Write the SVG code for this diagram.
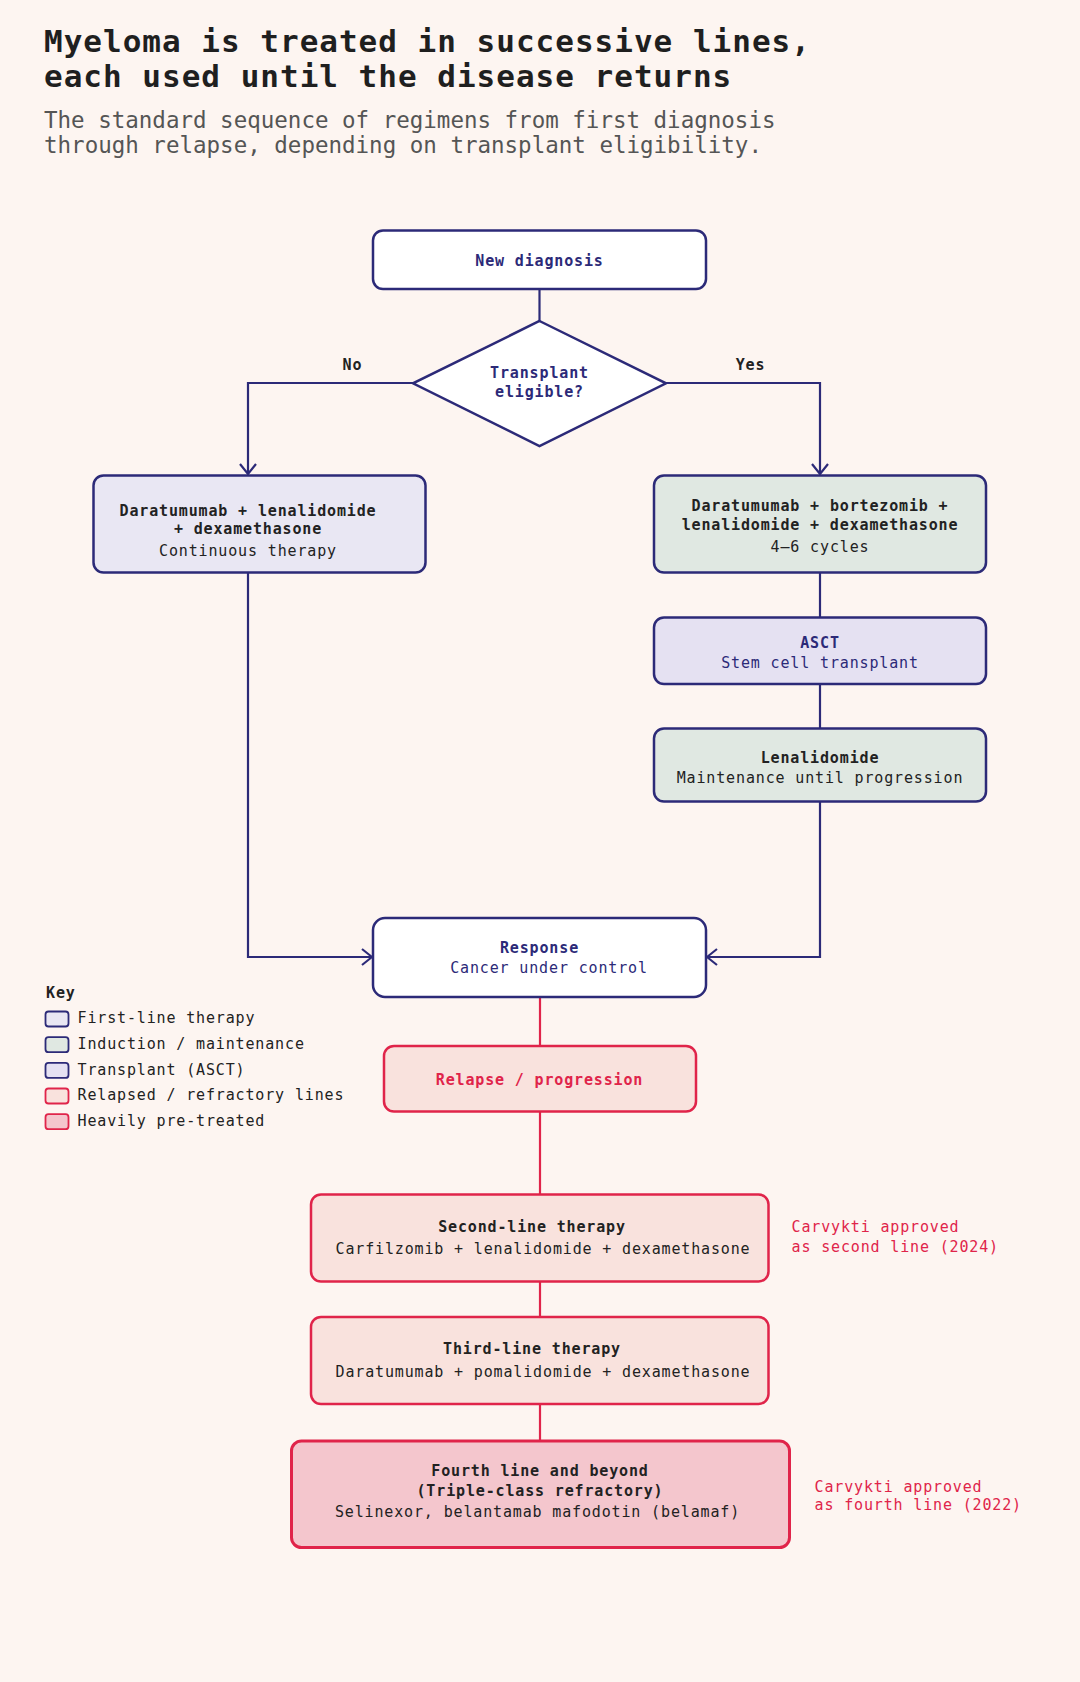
<svg xmlns="http://www.w3.org/2000/svg" width="1080" height="1682" viewBox="0 0 1080 1682">
<defs>
<style>
text{font-family:"DejaVu Sans Mono","Liberation Mono",monospace;}
.t{font-size:31px;font-weight:bold;fill:#1f1f1f;letter-spacing:1px;}
.s{font-size:22.5px;fill:#555;}
.n{font-size:15px;letter-spacing:0.85px;text-anchor:middle;}
.l{font-size:15px;letter-spacing:0.85px;}
.b{font-weight:bold;}
.dk{fill:#222;}
.nv{fill:#2c2a78;}
.rd{fill:#e0244a;}
.nav{stroke:#2c2a78;stroke-width:2.5;}
.red{stroke:#e0244a;stroke-width:2.5;}
.c{fill:none;stroke-width:2.2;}
</style>
<marker id="ah" markerUnits="userSpaceOnUse" markerWidth="12" markerHeight="18" viewBox="0 0 12 18" refX="11" refY="9" orient="auto">
<path d="M1,1 L11,9 L1,17" fill="none" stroke="#2c2a78" stroke-width="2.2"/>
</marker>
</defs>
<rect width="1080" height="1682" fill="#fdf5f1"/>
<g id="title">
<text class="t" x="44" y="52">Myeloma is treated in successive lines,</text>
<text class="t" x="44" y="87">each used until the disease returns</text>
<text class="s" x="44" y="127.5">The standard sequence of regimens from first diagnosis</text>
<text class="s" x="44" y="153">through relapse, depending on transplant eligibility.</text>
</g>
<g id="connectors">
<path class="c nav" d="M539.5,289 V321"/>
<path class="c nav" d="M413,383 H248 V474" marker-end="url(#ah)"/>
<path class="c nav" d="M666,383 H820 V474" marker-end="url(#ah)"/>
<path class="c nav" d="M820,573 V618"/>
<path class="c nav" d="M820,684 V728"/>
<path class="c nav" d="M820,802 V957 H707" marker-end="url(#ah)"/>
<path class="c nav" d="M248,573 V957 H372" marker-end="url(#ah)"/>
<path class="c red" d="M540,997 V1046"/>
<path class="c red" d="M540,1112 V1194"/>
<path class="c red" d="M540,1282 V1317"/>
<path class="c red" d="M540,1404 V1441"/>
<text class="l b dk" x="352.5" y="370" text-anchor="middle">No</text>
<text class="l b dk" x="750.5" y="370" text-anchor="middle">Yes</text>
</g>
<g id="new-diagnosis">
<rect x="373" y="230.5" width="333" height="58.5" rx="10" fill="#fff" class="nav"/>
<text class="n b nv" x="539.5" y="266">New diagnosis</text>
</g>
<g id="transplant-eligible">
<polygon points="539.5,321 666,383.3 539.5,446 413,383.3" fill="#fff" class="nav"/>
<text class="n b nv" x="539.5" y="378">Transplant</text>
<text class="n b nv" x="539.5" y="397">eligible?</text>
</g>
<g id="first-line-no">
<rect x="93.5" y="475.5" width="332" height="97" rx="10" fill="#e9e7f3" class="nav"/>
<text class="n b dk" x="248" y="515.5">Daratumumab + lenalidomide</text>
<text class="n b dk" x="248" y="534">+ dexamethasone</text>
<text class="n dk" x="248" y="555.5">Continuous therapy</text>
</g>
<g id="induction">
<rect x="654" y="475.5" width="332" height="97" rx="10" fill="#e0e8e2" class="nav"/>
<text class="n b dk" x="820" y="511">Daratumumab + bortezomib +</text>
<text class="n b dk" x="820" y="529.5">lenalidomide + dexamethasone</text>
<text class="n dk" x="820" y="551.5">4–6 cycles</text>
</g>
<g id="asct">
<rect x="654" y="617.5" width="332" height="66.5" rx="10" fill="#e5e1f2" class="nav"/>
<text class="n b nv" x="820" y="647.5">ASCT</text>
<text class="n nv" x="820" y="667.5">Stem cell transplant</text>
</g>
<g id="maintenance">
<rect x="654" y="728.5" width="332" height="73" rx="10" fill="#e0e8e2" class="nav"/>
<text class="n b dk" x="820" y="762.5">Lenalidomide</text>
<text class="n dk" x="820" y="783">Maintenance until progression</text>
</g>
<g id="response">
<rect x="373" y="918" width="333" height="79" rx="12" fill="#fff" class="nav"/>
<text class="n b nv" x="539.5" y="953">Response</text>
<text class="n nv" x="549" y="973">Cancer under control</text>
</g>
<g id="relapse">
<rect x="384" y="1046" width="312" height="65.5" rx="10" fill="#f9e2dd" class="red"/>
<text class="n b rd" x="539.5" y="1085">Relapse / progression</text>
</g>
<g id="second-line">
<rect x="311" y="1194.5" width="457.5" height="87" rx="10" fill="#f9e2dd" class="red"/>
<text class="n b dk" x="532" y="1231.5">Second-line therapy</text>
<text class="n dk" x="543" y="1254">Carfilzomib + lenalidomide + dexamethasone</text>
</g>
<g id="third-line">
<rect x="311" y="1317" width="457.5" height="87" rx="10" fill="#f9e2dd" class="red"/>
<text class="n b dk" x="532" y="1354">Third-line therapy</text>
<text class="n dk" x="543" y="1376.5">Daratumumab + pomalidomide + dexamethasone</text>
</g>
<g id="fourth-line">
<rect x="291.5" y="1441" width="498" height="106.5" rx="10" fill="#f4c6cd" stroke="#e0244a" stroke-width="3"/>
<text class="n b dk" x="540" y="1476">Fourth line and beyond</text>
<text class="n b dk" x="540" y="1495.5">(Triple-class refractory)</text>
<text class="n dk" x="537.5" y="1516.5">Selinexor, belantamab mafodotin (belamaf)</text>
</g>
<g id="note-second">
<text class="l rd" x="791.5" y="1231.5">Carvykti approved</text>
<text class="l rd" x="791.5" y="1251.5">as second line (2024)</text>
</g>
<g id="note-fourth">
<text class="l rd" x="814.5" y="1491.5">Carvykti approved</text>
<text class="l rd" x="814.5" y="1510">as fourth line (2022)</text>
</g>
<g id="key">
<text class="l b dk" x="46" y="998">Key</text>
<rect x="45.5" y="1011.5" width="23" height="15" rx="3" fill="#e9e7f3" stroke="#2c2a78" stroke-width="1.8"/>
<text class="l dk" x="77.5" y="1023.3">First-line therapy</text>
<rect x="45.5" y="1037.2" width="23" height="15" rx="3" fill="#e0e8e2" stroke="#2c2a78" stroke-width="1.8"/>
<text class="l dk" x="77.5" y="1049">Induction / maintenance</text>
<rect x="45.5" y="1062.9" width="23" height="15" rx="3" fill="#e5e1f2" stroke="#2c2a78" stroke-width="1.8"/>
<text class="l dk" x="77.5" y="1074.7">Transplant (ASCT)</text>
<rect x="45.5" y="1088.5" width="23" height="15" rx="3" fill="#f9e2dd" stroke="#e0244a" stroke-width="1.8"/>
<text class="l dk" x="77.5" y="1100.3">Relapsed / refractory lines</text>
<rect x="45.5" y="1114.2" width="23" height="15" rx="3" fill="#f4c6cd" stroke="#e0244a" stroke-width="1.8"/>
<text class="l dk" x="77.5" y="1126">Heavily pre-treated</text>
</g>
</svg>
